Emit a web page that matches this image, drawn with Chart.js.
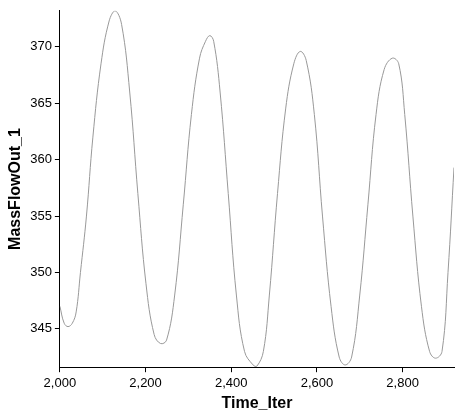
<!DOCTYPE html>
<html><head><meta charset="utf-8">
<script src="https://cdn.jsdelivr.net/npm/chart.js@4"></script>
<style>body{margin:0;background:#fff}#wrap{width:474px;height:413px}</style>
</head><body><div id="wrap"><canvas id="c"></canvas></div>
<script>
const timeIter = [2000,2010,2019,2029,2038,2048,2062,2077,2096,2115,2129,2144,2163,2182,2201,2220,2235,2249,2268,2288,2307,2326,2340,2350,2359,2374,2393,2412,2431,2451,2460,2475,2489,2508,2527,2546,2561,2575,2594,2613,2633,2652,2666,2681,2700,2719,2738,2757,2776,2791,2805,2824,2844,2863,2877,2892,2906,2920];
const massFlow = [347,345.5,345.2,345.5,346.5,350,355,362,368.5,372.3,373.2,372,366,357,349,344.5,343.7,344,348,356,364,369,370.5,371,370.5,366,357,348,343,341.8,341.7,343,348,357,364.5,368.5,369.6,368.8,364,355,347,342.5,341.8,342.5,348,356,364,368,369,368.5,364,355,347,343,342.4,343,350,359.3];

const pts = timeIter.map((t, i) => ({x: t, y: massFlow[i]}));
new Chart(document.getElementById('c'), {
  type: 'line',
  data: { datasets: [{ data: pts, borderColor: '#999', borderWidth: 1, pointRadius: 0, tension: 0.4, fill: false }] },
  options: {
    responsive: true, maintainAspectRatio: false, animation: false,
    layout: { padding: { top: 6, right: 20, bottom: 0, left: 4 } },
    plugins: { legend: { display: false }, tooltip: { enabled: false } },
    scales: {
      x: {
        type: 'linear', min: 2000, max: 2920,
        afterBuildTicks: axis => { axis.ticks = [2000, 2200, 2400, 2600, 2800].map(v => ({value: v})); },
        ticks: { autoSkip: false, maxRotation: 0, color: '#000', font: { family: 'Liberation Sans', size: 13 } },
        grid: { drawOnChartArea: false, color: '#000', tickLength: 5 },
        border: { color: '#000', width: 1 },
        title: { display: true, text: 'Time_Iter', color: '#000', padding: 0, font: { family: 'Liberation Sans', size: 16, weight: 'bold' } }
      },
      y: {
        min: 341.6, max: 373.2,
        afterBuildTicks: axis => { axis.ticks = [345, 350, 355, 360, 365, 370].map(v => ({value: v})); },
        ticks: { autoSkip: false, color: '#000', font: { family: 'Liberation Sans', size: 13 } },
        grid: { drawOnChartArea: false, color: '#000', tickLength: 5 },
        border: { color: '#000', width: 1 },
        title: { display: true, text: 'MassFlowOut_1', color: '#000', padding: 2, font: { family: 'Liberation Sans', size: 16, weight: 'bold' } }
      }
    }
  }
});
</script></body></html>
